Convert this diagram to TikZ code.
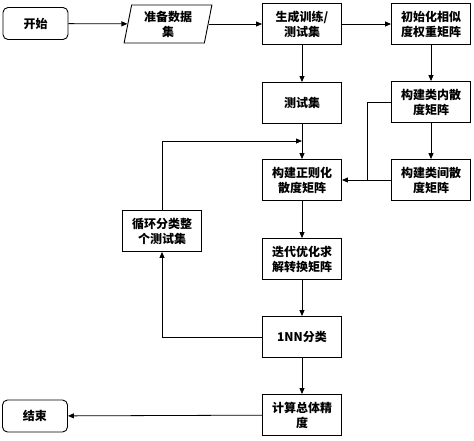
\documentclass[tikz,border=0pt]{standalone}
\usepackage{fontspec}
\newfontfamily\cjk{Noto Sans CJK SC}
\usetikzlibrary{shapes.geometric,arrows.meta}

\begin{document}
\begin{tikzpicture}[x=1pt,y=-1pt,
    box/.style={draw,line width=0.9pt,minimum width=79pt,minimum height=41pt,align=center,inner sep=2pt,font=\cjk\bfseries\fontsize{12}{15}\selectfont},
    ends/.style={box,rounded corners=5pt,minimum width=65pt,minimum height=32pt},
    data/.style={box,trapezium,trapezium left angle=80,trapezium right angle=100,trapezium stretches=true,minimum width=88pt,minimum height=38pt},
    link/.style={-{Triangle[length=6pt,width=5pt]},line width=0.8pt}]
      \useasboundingbox (0,0) rectangle (474,440);
      \draw
        (35.5,23.5) node[ends] (0){开始}
        (168,24) node[data] (1){准备数据\\集}
        (302,24) node[box] (2){生成训练/\\测试集}
        (431,24) node[box] (3){初始化相似\\度权重矩阵}
        (302,103) node[box] (4){测试集}
        (431,102) node[box] (5){构建类内散\\度矩阵}
        (302,180) node[box] (6){构建正则化\\散度矩阵}
        (431,180) node[box] (7){构建类间散\\度矩阵}
        (162,231) node[box] (8){循环分类整\\个测试集}
        (302,259) node[box] (9){迭代优化求\\解转换矩阵}
        (302,337) node[box] (10){1NN分类}
        (302,415) node[box] (11){计算总体精\\度}
        (35,416) node[ends] (12){结束};
      \coordinate (j) at (302,141);
      \coordinate (k) at (367,180);
      \begin{scope}[link]
        \draw (0) -- (1);
        \draw (1) -- (2);
        \draw (2) -- (3);
        \draw (2) -- (4);
        \draw (3) -- (5);
        \draw (5) -- (7);
        \draw (4) -- (6);
        \draw (6) -- (9);
        \draw (9) -- (10);
        \draw (10) -- (11);
        \draw (11) -- (12);
        \draw (7) -- (6);
        \draw[-] (5) -| (k);
        \draw (10) -| (8);
        \draw (8) |- (j);
      \end{scope}
    \end{tikzpicture}
\end{document}
